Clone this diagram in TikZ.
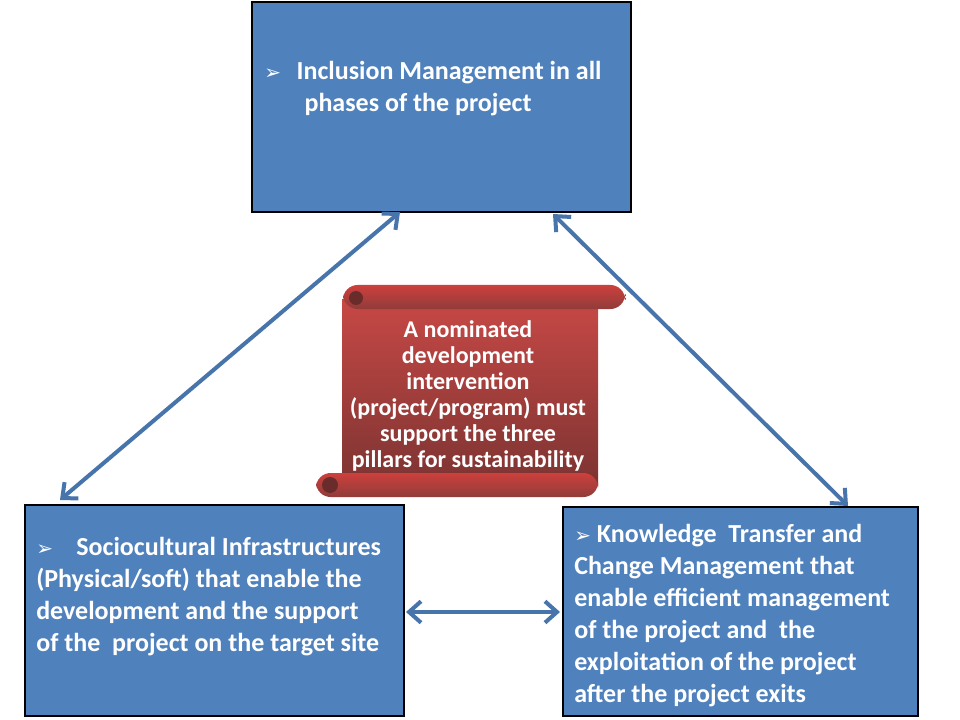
\documentclass[tikz,border=0pt]{standalone}
\usepackage{fontspec}
\setmainfont{Carlito}
\newfontfamily\symf{DejaVu Sans}
\usetikzlibrary{arrows.meta}
\definecolor{boxblue}{HTML}{4F81BD}
\definecolor{scrollred}{HTML}{C0504D}
\tikzset{
  pbox/.style={draw=black,line width=2.2pt,fill=boxblue},
  ptext/.style={text=white,font=\bfseries\fontsize{19.5}{24}\selectfont,align=left,anchor=north west,inner sep=0pt},
  biarrow/.style={draw=boxblue!90!black,line width=3pt,{Straight Barb[length=9pt,width=16pt]}-{Straight Barb[length=9pt,width=16pt]}},
  rollfill/.style={top color=scrollred!80!red,bottom color=scrollred!75!black}
}
\newcommand{\bul}{{\symf\fontsize{15}{15}\selectfont ➢}}
\begin{document}
\begin{tikzpicture}[x=0.75pt,y=-0.75pt]
\useasboundingbox (0,0) rectangle (960,720);
\fill[white] (0,0) rectangle (960,720);
% boxes
\draw[pbox] (252,2) rectangle (631,212);
\coordinate (topL) at (400,212); \coordinate (topR) at (553,214);
\draw[pbox] (25,505) rectangle (404,716);
\draw[pbox] (563,507) rectangle (918,716);
\node[ptext] (t1) at (264,61) {\bul\hspace{0.6em}Inclusion Management in all\\\hspace{1.55em}phases of the project};
\node[ptext] (t2) at (36,537) {\bul\hspace{0.9em}Sociocultural Infrastructures\\(Physical/soft) that enable the\\development and the support\\of the\ \ project on the target site};
\node[ptext] (t3) at (574,524) {\bul\ Knowledge\ \ Transfer and\\Change Management that\\enable efficient management\\of the project and\ \ the\\exploitation of the project\\after the project exits};
% scroll
\shade[top color=scrollred!90!red,bottom color=scrollred!65!black] (342,300) rectangle (598,485);
\shade[rollfill,rounded corners=11pt] (343,285) rectangle (625,309);
\shade[rollfill,rounded corners=11pt] (316,473) rectangle (598,497);
\fill[scrollred!55!black] (356,298) circle (7);
\fill[scrollred!55!black] (330,485) circle (8);
\node[text=white,font=\bfseries\fontsize{18}{19.5}\selectfont,align=center] (s) at (468,396)
 {A nominated\\development\\intervention\\(project/program) must\\support the three\\pillars for sustainability};
% arrows
\coordinate (blA) at (60,500); \coordinate (brA) at (848,506);
\coordinate (bl) at (406,612); \coordinate (br) at (560,612);
\draw[biarrow] (topL) -- (blA);
\draw[biarrow] (topR) -- (brA);
\draw[biarrow] (bl) -- (br);
\end{tikzpicture}
\end{document}
